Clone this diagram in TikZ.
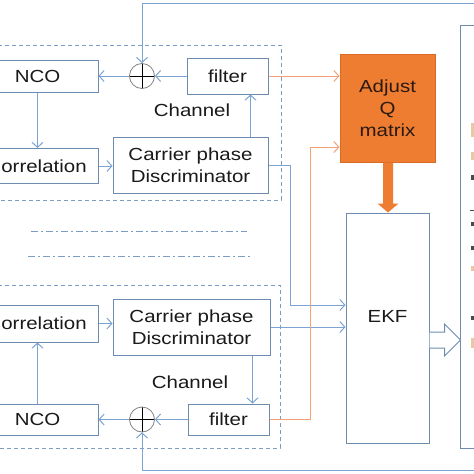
\documentclass[tikz,border=0pt]{standalone}
\usepackage{fontspec}
\setmainfont[FakeStretch=1.17]{Liberation Sans}
\usetikzlibrary{arrows.meta,calc}
\definecolor{boxblue}{HTML}{6E8CB0}
\definecolor{lineblue}{HTML}{7BA4D4}
\definecolor{dashcol}{HTML}{7C9CC4}
\definecolor{qorange}{HTML}{EE7D31}
\definecolor{qborder}{HTML}{D96B25}
\definecolor{lorange}{HTML}{F2A274}
\definecolor{txt}{HTML}{1A1A1A}
\definecolor{qtxt}{HTML}{2A1A12}
\definecolor{tanfrag}{HTML}{E6C9A6}
\definecolor{darkfrag}{HTML}{4A4A4A}
\begin{document}
\begin{tikzpicture}[x=1pt,y=-1pt,
  every node/.style={font=\fontsize{17.5}{22}\selectfont, text=txt},
  box/.style={draw=boxblue, line width=1pt, fill=white, inner sep=0pt, align=center},
  con/.style={draw=lineblue, line width=1pt, -{Straight Barb[length=5pt,width=11pt]}},
  ocon/.style={draw=lorange, line width=1pt, -{Straight Barb[length=5pt,width=11pt]}},
  dashbox/.style={draw=dashcol, line width=1pt, dash pattern=on 4pt off 3pt},
  dashdot/.style={draw=dashcol, line width=1pt, dash pattern=on 7pt off 3pt on 2pt off 3pt},
  adder/.style={circle, draw=gray, line width=0.8pt, minimum size=25pt, inner sep=0pt,
    path picture={\draw[black, line width=0.8pt] (path picture bounding box.north) -- (path picture bounding box.south)
      (path picture bounding box.west) -- (path picture bounding box.east);}}
]
\useasboundingbox (0,0) rectangle (474,474);
\clip (0,0) rectangle (474,474);
\fill[white] (0,0) rectangle (474,474);

% dashed channel frames and separators
\draw[dashbox] (-5,45) rectangle (281,200);
\draw[dashbox] (-5,285) rectangle (280,448);
\draw[dashdot] (31,231) -- (247,231);
\draw[dashdot] (28,256) -- (250,256);

% top channel
\node[box, minimum width=121pt, minimum height=32pt] (nco1) at (37.5,76) {NCO};
\node[adder] (add1) at (142,76) {};
\node[box, minimum width=81pt, minimum height=36pt] (filt1) at (227.5,76) {filter};
\node[box, minimum width=115pt, minimum height=35pt] (corr1) at (40.5,166) {};
\node (corr1l) at (44,166) {orrelation};
\node[box, minimum width=155pt, minimum height=56pt] (car1) at (190.5,165) {Carrier phase\\Discriminator};
\node (ch1) at (192,110) {Channel};

% bottom channel
\node[box, minimum width=115pt, minimum height=37pt] (corr2) at (40.5,323.5) {};
\node (corr2l) at (44,323.5) {orrelation};
\node[box, minimum width=157pt, minimum height=56pt] (car2) at (191.5,327) {Carrier phase\\Discriminator};
\node[box, minimum width=121pt, minimum height=31pt] (nco2) at (37.5,419.5) {NCO};
\node[adder] (add2) at (142,419.5) {};
\node[box, minimum width=81pt, minimum height=31pt] (filt2) at (228.5,419.5) {filter};
\node (ch2) at (190,382) {Channel};

% right part
\node[box, draw=qborder, fill=qorange, minimum width=95pt, minimum height=108pt, text=qtxt] (adjq) at (387.5,108) {Adjust\\Q\\matrix};
\node[box, minimum width=83pt, minimum height=230pt] (ekf) at (387.5,328) {};
\node (ekfl) at (387.5,316) {EKF};
\node[box, minimum width=30pt, minimum height=423pt] (out) at (475,236.5) {};

% fragments of cut-off text in the right box
\fill[tanfrag] (471,123) rectangle (476,137);
\fill[tanfrag] (471,152) rectangle (476,160);
\fill[darkfrag] (471,175) rectangle (476,180);
\fill[darkfrag] (470,209.5) rectangle (476,210.5);
\fill[darkfrag] (471,222) rectangle (476,226);
\fill[darkfrag] (471,246) rectangle (476,250);
\fill[tanfrag] (471,266) rectangle (476,271);
\fill[darkfrag] (471,316) rectangle (476,320);
\fill[tanfrag] (471,338) rectangle (476,348);

% top channel connectors
\coordinate (fbt) at (480,3);
\draw[con] (fbt) -- (fbt -| add1) -- (add1.north);
\draw[con] (filt1.west) -- (add1.east);
\draw[con] (add1.west) -- (nco1.east);
\draw[con] (nco1.south) -- (nco1.south |- corr1.north);
\draw[con] (corr1.east) -- (corr1.east -| car1.west);
\draw[con] ([xshift=-18pt]car1.north east) -- ([xshift=-18pt]car1.north east |- filt1.south);
\draw[con] (car1.east) -| (290,305) -- (ekf.west |- 0,305);
\draw[ocon] (filt1.east) -- (filt1.east -| adjq.west);

% bottom channel connectors
\coordinate (fbb) at (480,470);
\draw[con] (fbb) -- (fbb -| add2) -- (add2.south);
\draw[con] (filt2.west) -- (add2.east);
\draw[con] (add2.west) -- (nco2.east);
\draw[con] (nco2.north) -- (nco2.north |- corr2.south);
\draw[con] (corr2.east) -- (corr2.east -| car2.west);
\draw[con] ([xshift=-18pt]car2.south east) -- ([xshift=-18pt]car2.south east |- filt2.north);
\draw[con] (car2.east) -- (car2.east -| ekf.west);
\draw[ocon] (filt2.east) -| (310,147) -- (adjq.west |- 0,147);

% thick orange arrow Adjust Q -> EKF
\fill[qorange] ($(adjq.south)+(-4.5,0)$) -- ($(adjq.south)+(5.5,0)$) -- ($(adjq.south)+(5.5,41)$)
  -- ($(adjq.south)+(11,41)$) -- ($(ekf.north)+(0.5,0)$) -- ($(adjq.south)+(-10,41)$)
  -- ($(adjq.south)+(-4.5,41)$) -- cycle;

% hollow output arrow EKF -> right box
\draw[boxblue, fill=white, line width=1pt, line join=miter]
  ($(ekf.east)+(0,4)$) -- ($(ekf.east)+(15,4)$) -- ($(ekf.east)+(15,-4)$) -- ($(ekf.east)+(31,12)$)
  -- ($(ekf.east)+(15,28)$) -- ($(ekf.east)+(15,20)$) -- ($(ekf.east)+(0,20)$);
\end{tikzpicture}
\end{document}
